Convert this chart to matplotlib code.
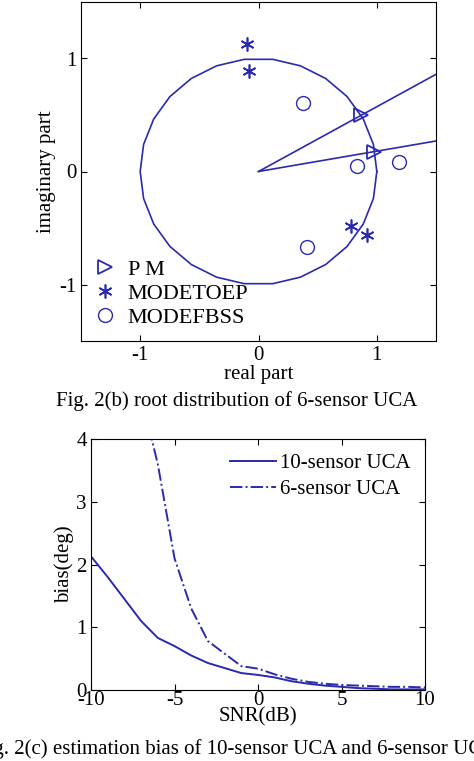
import numpy as np
import matplotlib.pyplot as plt

plt.rcParams['font.family'] = 'Liberation Serif'
plt.rcParams['font.size'] = 15
plt.rcParams['axes.unicode_minus'] = False

BLUE = '#2a2ab0'

# root distribution (6-sensor UCA)
pm_roots = [(0.87, 0.50), (0.98, 0.17)]
pm_far = [(1.5, 0.86), (1.5, 0.27)]
toep_roots = [(-0.10, 1.13), (-0.08, 0.89), (0.78, -0.48), (0.92, -0.56)]
fbss_roots = [(0.38, 0.61), (0.83, 0.05), (1.19, 0.08), (0.41, -0.67)]
n_poly = 26

# bias vs SNR
snr = [-10, -9, -8, -7, -6, -5, -4, -3, -2, -1, 0, 1, 2, 3, 4, 5, 6, 7, 8, 9, 10]
bias10 = [2.13, 1.8, 1.45, 1.1, 0.83, 0.7, 0.55, 0.43, 0.35, 0.27, 0.24, 0.2,
          0.14, 0.1, 0.07, 0.05, 0.03, 0.02, 0.01, 0.01, 0.01]
bias6 = [9.0, 7.0, 5.6, 4.7, 3.6, 2.1, 1.3, 0.78, 0.58, 0.38, 0.34, 0.25,
         0.18, 0.13, 0.1, 0.08, 0.07, 0.06, 0.05, 0.05, 0.04]

fig = plt.figure(figsize=(4.74, 7.61), dpi=100)

ax1 = fig.add_axes([81/474, 1 - 341/761, 355/474, 339/761])
t = np.linspace(0, 2 * np.pi, n_poly + 1)
ax1.plot(np.cos(t), np.sin(t), color=BLUE, lw=1.2)
for (x, y), (fx, fy) in zip(pm_roots, pm_far):
    ax1.plot([0, fx], [0, fy], color=BLUE, lw=1.2)
ax1.plot([p[0] for p in pm_roots], [p[1] for p in pm_roots], '>', ms=10,
         mfc='none', mec=BLUE, mew=1.3, label='P M')
ax1.plot([p[0] for p in toep_roots], [p[1] for p in toep_roots], ms=10,
         color=BLUE, mew=1.2, ls='none', label='MODETOEP', marker=(6, 2, 0))
ax1.plot([p[0] for p in fbss_roots], [p[1] for p in fbss_roots], 'o', ms=10,
         mfc='none', mec=BLUE, mew=1.0, label='MODEFBSS')
ax1.set_xlim(-1.5, 1.5)
ax1.set_ylim(-1.5, 1.5)
ax1.set_xticks([-1, 0, 1])
ax1.set_yticks([-1, 0, 1])
ax1.tick_params(direction='in', top=True, right=True, length=4)
ax1.set_xlabel('real part', labelpad=0)
ax1.set_ylabel('imaginary part', labelpad=2)
ax1.legend(loc='lower left', frameon=False, handlelength=1, handletextpad=0.5,
           borderaxespad=0.2, labelspacing=0.15, fontsize=16)
fig.text(0.5, 1 - 401/761, 'Fig. 2(b) root distribution of 6-sensor UCA',
         ha='center', va='center', fontsize=15)

ax2 = fig.add_axes([91/474, 1 - 690/761, 334/474, 251/761])
ax2.plot(snr, bias10, '-', color=BLUE, lw=1.4, label='10-sensor UCA')
ax2.plot(snr, bias6, '-.', color=BLUE, lw=1.4, label='6-sensor UCA')
ax2.set_xlim(-10, 10)
ax2.set_ylim(0, 4)
ax2.set_xticks([-10, -5, 0, 5, 10])
ax2.set_yticks([0, 1, 2, 3, 4])
ax2.tick_params(direction='in', top=True, right=True, length=4, pad=1)
ax2.tick_params(axis='y', pad=3)
ax2.set_xlabel('SNR(dB)', labelpad=-2)
ax2.set_ylabel('bias(deg)', labelpad=2)
ax2.legend(loc='upper right', frameon=False, handlelength=2.2,
           handletextpad=0.2, labelspacing=0.3, borderaxespad=0.3)
fig.text(0.5, 1 - 749/761,
         'Fig. 2(c) estimation bias of 10-sensor UCA and 6-sensor UCA',
         ha='center', va='center', fontsize=15)

fig.savefig('out.png', dpi=100)
